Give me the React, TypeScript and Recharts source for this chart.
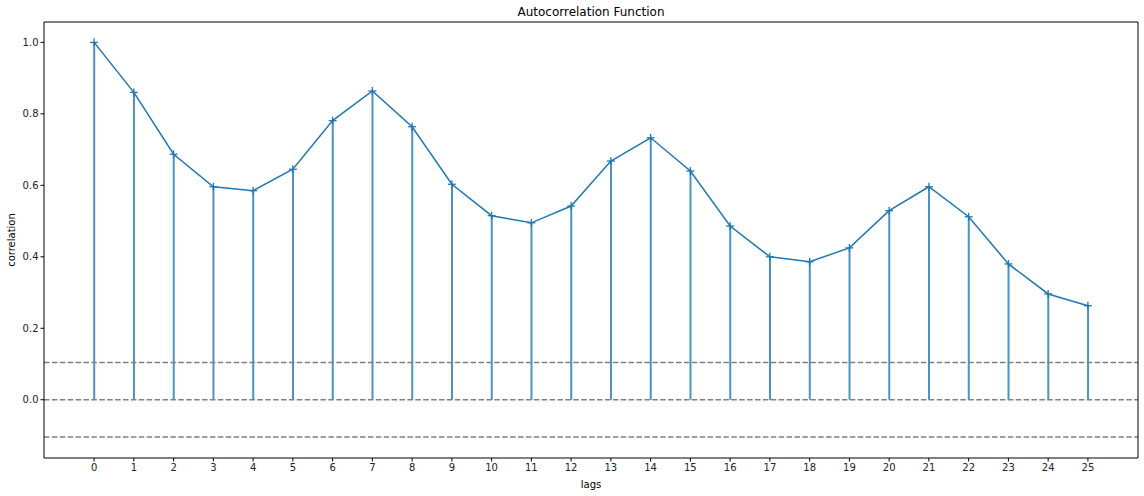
import React from "react";
import {
  Bar,
  ComposedChart,
  Line,
  ReferenceLine,
  XAxis,
  YAxis,
} from "recharts";

// lag index and autocorrelation values
const lags = [
  0, 1, 2, 3, 4, 5, 6, 7, 8, 9, 10, 11, 12, 13, 14, 15, 16, 17, 18, 19, 20, 21,
  22, 23, 24, 25,
];
const acf = [
  1.0, 0.86, 0.687, 0.596, 0.585, 0.645, 0.781, 0.864, 0.764, 0.603, 0.515,
  0.495, 0.542, 0.668, 0.733, 0.64, 0.486, 0.4, 0.386, 0.425, 0.529, 0.596,
  0.512, 0.38, 0.296, 0.263,
];
const confBand = [0.104, 0, -0.104];
const yTicks = [0, 0.2, 0.4, 0.6, 0.8, 1.0];

const FONT = "'DejaVu Sans', sans-serif";
const BLUE = "#1f77b4";
const X_DOMAIN: [number, number] = [-1.26, 26.26];
const Y_DOMAIN: [number, number] = [-0.163, 1.057];

const chartData = lags.map((lag, i) => ({ lag, acf: acf[i] }));

// matplotlib-style "+" marker
const PlusDot = (props: any) => {
  const { cx, cy, index } = props;
  if (cx == null || cy == null) return null;
  return (
    <g key={`plus-${index}`}>
      <line x1={cx - 4} x2={cx + 4} y1={cy} y2={cy} stroke={BLUE} strokeWidth={1.3} />
      <line x1={cx} x2={cx} y1={cy - 4} y2={cy + 4} stroke={BLUE} strokeWidth={1.3} />
    </g>
  );
};

export default function App() {
  return (
    <div style={{ position: "absolute", left: 0, top: 0, width: 1144, height: 496, background: "#fff" }}>
      <div
        style={{
          position: "absolute",
          left: 44,
          width: 1094,
          top: 5,
          textAlign: "center",
          fontFamily: FONT,
          fontSize: 12,
          color: "#000",
        }}
      >
        Autocorrelation Function
      </div>
      <ComposedChart
        width={1144}
        height={496}
        data={chartData}
        margin={{ top: 22, right: 6, left: 0, bottom: 0 }}
      >
        <XAxis
          dataKey="lag"
          type="number"
          domain={X_DOMAIN}
          ticks={lags}
          interval={0}
          allowDataOverflow
          height={38}
          stroke="#000"
          tickSize={3.5}
          tick={{ fill: "#222", fontSize: 10, fontFamily: FONT }}
          label={(p: any) => {
            const vb = p.viewBox;
            return (
              <text
                x={vb.x + vb.width / 2}
                y={488}
                textAnchor="middle"
                fontSize={10}
                fontFamily={FONT}
                fill="#000"
              >
                lags
              </text>
            );
          }}
        />
        <YAxis
          type="number"
          domain={Y_DOMAIN}
          ticks={yTicks}
          allowDataOverflow
          width={44}
          stroke="#000"
          tickSize={3.5}
          tickFormatter={(v: number) => v.toFixed(1)}
          tick={{ fill: "#222", fontSize: 10, fontFamily: FONT }}
          label={() => (
            <text
              x={15}
              y={240}
              transform="rotate(-90 15 240)"
              textAnchor="middle"
              fontSize={10}
              fontFamily={FONT}
              fill="#000"
            >
              correlation
            </text>
          )}
        />
        {confBand.map((v) => (
          <ReferenceLine
            key={v}
            y={v}
            stroke="#808080"
            strokeWidth={1.5}
            strokeDasharray="5.5 2.4"
          />
        ))}
        {/* top and right spines */}
        <ReferenceLine y={Y_DOMAIN[1]} stroke="#000" strokeWidth={1} ifOverflow="visible" />
        <ReferenceLine x={X_DOMAIN[1]} stroke="#000" strokeWidth={1} ifOverflow="visible" />
        <Bar
          dataKey="acf"
          barSize={2}
          fill={BLUE}
          fillOpacity={0.8}
          isAnimationActive={false}
        />
        <Line
          dataKey="acf"
          type="linear"
          stroke={BLUE}
          strokeWidth={1.5}
          dot={PlusDot}
          activeDot={false}
          isAnimationActive={false}
        />
      </ComposedChart>
    </div>
  );
}
